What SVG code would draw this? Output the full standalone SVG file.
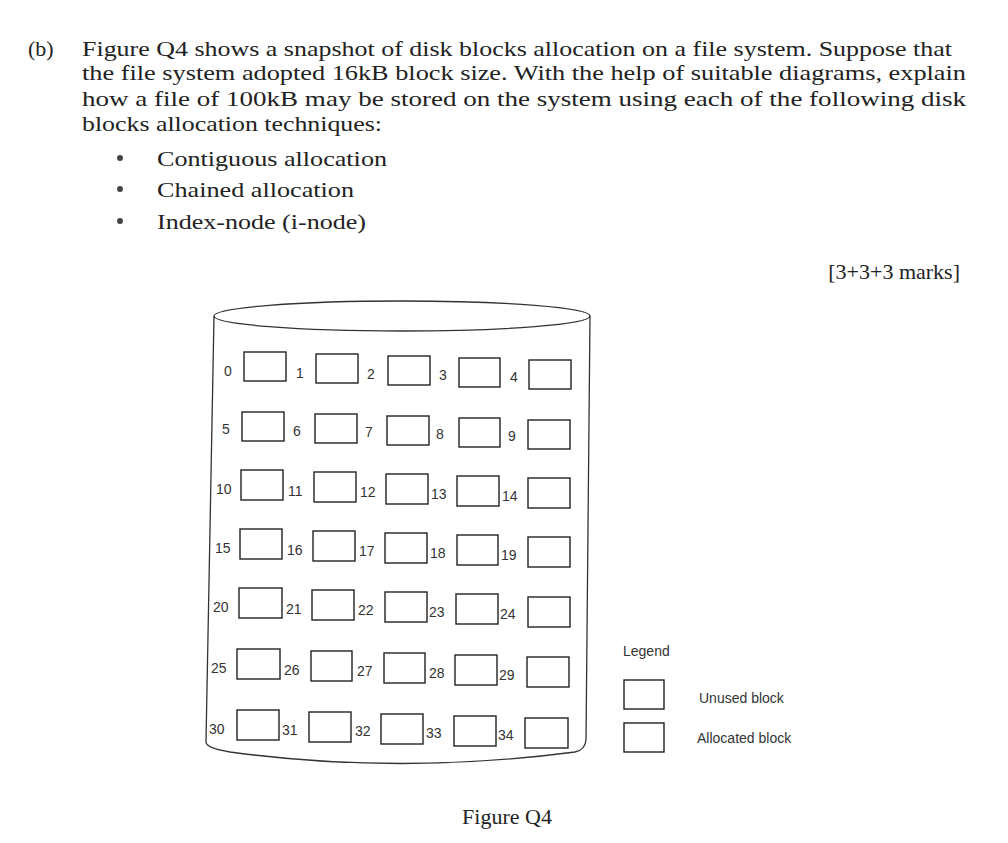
<svg xmlns="http://www.w3.org/2000/svg" width="1008" height="843" viewBox="0 0 1008 843">
<style>
.t{font-family:"Liberation Serif",serif;font-size:22px;fill:#222}
.n{font-family:"Liberation Sans",sans-serif;font-size:14px;fill:#333}
.b{fill:#fff;stroke:#222;stroke-width:1.4}
.c{fill:none;stroke:#333;stroke-width:1.3}
</style>
<rect width="1008" height="843" fill="#fff"/>
<g id="question">
<text class="t" x="28" y="56">(b)</text>
<text class="t" x="82" y="56" textLength="870" lengthAdjust="spacingAndGlyphs">Figure Q4 shows a snapshot of disk blocks allocation on a file system. Suppose that</text>
<text class="t" x="82" y="80" textLength="884" lengthAdjust="spacingAndGlyphs">the file system adopted 16kB block size. With the help of suitable diagrams, explain</text>
<text class="t" x="82" y="106" textLength="884" lengthAdjust="spacingAndGlyphs">how a file of 100kB may be stored on the system using each of the following disk</text>
<text class="t" x="82" y="131" textLength="300" lengthAdjust="spacingAndGlyphs">blocks allocation techniques:</text>
<circle cx="120" cy="158" r="3" fill="#444"/><text class="t" x="157" y="166" textLength="230" lengthAdjust="spacingAndGlyphs">Contiguous allocation</text>
<circle cx="120" cy="189" r="3" fill="#444"/><text class="t" x="157" y="197" textLength="197" lengthAdjust="spacingAndGlyphs">Chained allocation</text>
<circle cx="120" cy="221" r="3" fill="#444"/><text class="t" x="157" y="229" textLength="209" lengthAdjust="spacingAndGlyphs">Index-node (i-node)</text>
<text class="t" x="960" y="279" text-anchor="end">[3+3+3 marks]</text>
<text class="t" x="507" y="824" text-anchor="middle">Figure Q4</text>
</g>
<g id="disk">
<ellipse class="c" cx="402" cy="316" rx="188" ry="15"/>
<path class="c" d="M214 316 L206 742 Q206 748 230 752 Q400 775 575 752 Q585 750 586 740 L590 316"/>
</g>
<g id="blocks">
<g><text class="n" x="224" y="376">0</text><rect class="b" x="244" y="352" width="42" height="29"/>
<text class="n" x="296" y="378">1</text><rect class="b" x="316" y="354" width="42" height="29"/>
<text class="n" x="367" y="379">2</text><rect class="b" x="388" y="356" width="42" height="29"/>
<text class="n" x="439" y="380">3</text><rect class="b" x="459" y="358" width="41" height="29"/>
<text class="n" x="510" y="382">4</text><rect class="b" x="529" y="360" width="42" height="29"/></g>
<g><text class="n" x="222" y="434">5</text><rect class="b" x="242" y="412" width="42" height="29"/>
<text class="n" x="293" y="436">6</text><rect class="b" x="315" y="414" width="42" height="29"/>
<text class="n" x="365" y="437">7</text><rect class="b" x="387" y="416" width="42" height="29"/>
<text class="n" x="436" y="439">8</text><rect class="b" x="459" y="418" width="41" height="29"/>
<text class="n" x="508" y="441">9</text><rect class="b" x="528" y="420" width="42" height="29"/></g>
<g><text class="n" x="216" y="494">10</text><rect class="b" x="241" y="470" width="42" height="30"/>
<text class="n" x="288" y="496">11</text><rect class="b" x="314" y="472" width="42" height="30"/>
<text class="n" x="360" y="497">12</text><rect class="b" x="386" y="474" width="42" height="30"/>
<text class="n" x="431" y="499">13</text><rect class="b" x="457" y="476" width="42" height="30"/>
<text class="n" x="502" y="501">14</text><rect class="b" x="528" y="478" width="42" height="30"/></g>
<g><text class="n" x="215" y="553">15</text><rect class="b" x="240" y="529" width="42" height="30"/>
<text class="n" x="287" y="555">16</text><rect class="b" x="313" y="531" width="42" height="30"/>
<text class="n" x="359" y="556">17</text><rect class="b" x="385" y="533" width="42" height="30"/>
<text class="n" x="430" y="558">18</text><rect class="b" x="457" y="535" width="41" height="30"/>
<text class="n" x="501" y="560">19</text><rect class="b" x="528" y="537" width="42" height="30"/></g>
<g><text class="n" x="213" y="612">20</text><rect class="b" x="239" y="588" width="43" height="30"/>
<text class="n" x="286" y="614">21</text><rect class="b" x="312" y="590" width="42" height="30"/>
<text class="n" x="358" y="615">22</text><rect class="b" x="385" y="592" width="42" height="30"/>
<text class="n" x="429" y="617">23</text><rect class="b" x="456" y="594" width="42" height="30"/>
<text class="n" x="500" y="619">24</text><rect class="b" x="528" y="597" width="42" height="30"/></g>
<g><text class="n" x="211" y="673">25</text><rect class="b" x="237" y="649" width="43" height="30"/>
<text class="n" x="284" y="675">26</text><rect class="b" x="311" y="651" width="41" height="30"/>
<text class="n" x="357" y="676">27</text><rect class="b" x="384" y="653" width="41" height="30"/>
<text class="n" x="429" y="678">28</text><rect class="b" x="455" y="655" width="42" height="30"/>
<text class="n" x="499" y="680">29</text><rect class="b" x="527" y="657" width="42" height="30"/></g>
<g><text class="n" x="209" y="734">30</text><rect class="b" x="237" y="710" width="42" height="30"/>
<text class="n" x="282" y="735">31</text><rect class="b" x="309" y="712" width="42" height="30"/>
<text class="n" x="355" y="736">32</text><rect class="b" x="381" y="714" width="42" height="30"/>
<text class="n" x="426" y="738">33</text><rect class="b" x="454" y="716" width="42" height="30"/>
<text class="n" x="498" y="740">34</text><rect class="b" x="525" y="718" width="43" height="30"/></g>
</g>
<g id="legend">
<text class="n" x="623" y="656" font-size="15">Legend</text>
<rect class="b" x="624" y="680" width="40" height="29"/>
<text class="n" x="699" y="703" font-size="15">Unused block</text>
<rect class="b" x="624" y="723" width="40" height="29"/>
<text class="n" x="697" y="743" font-size="15">Allocated block</text>
</g>
<g id="connectors"/>
</svg>
